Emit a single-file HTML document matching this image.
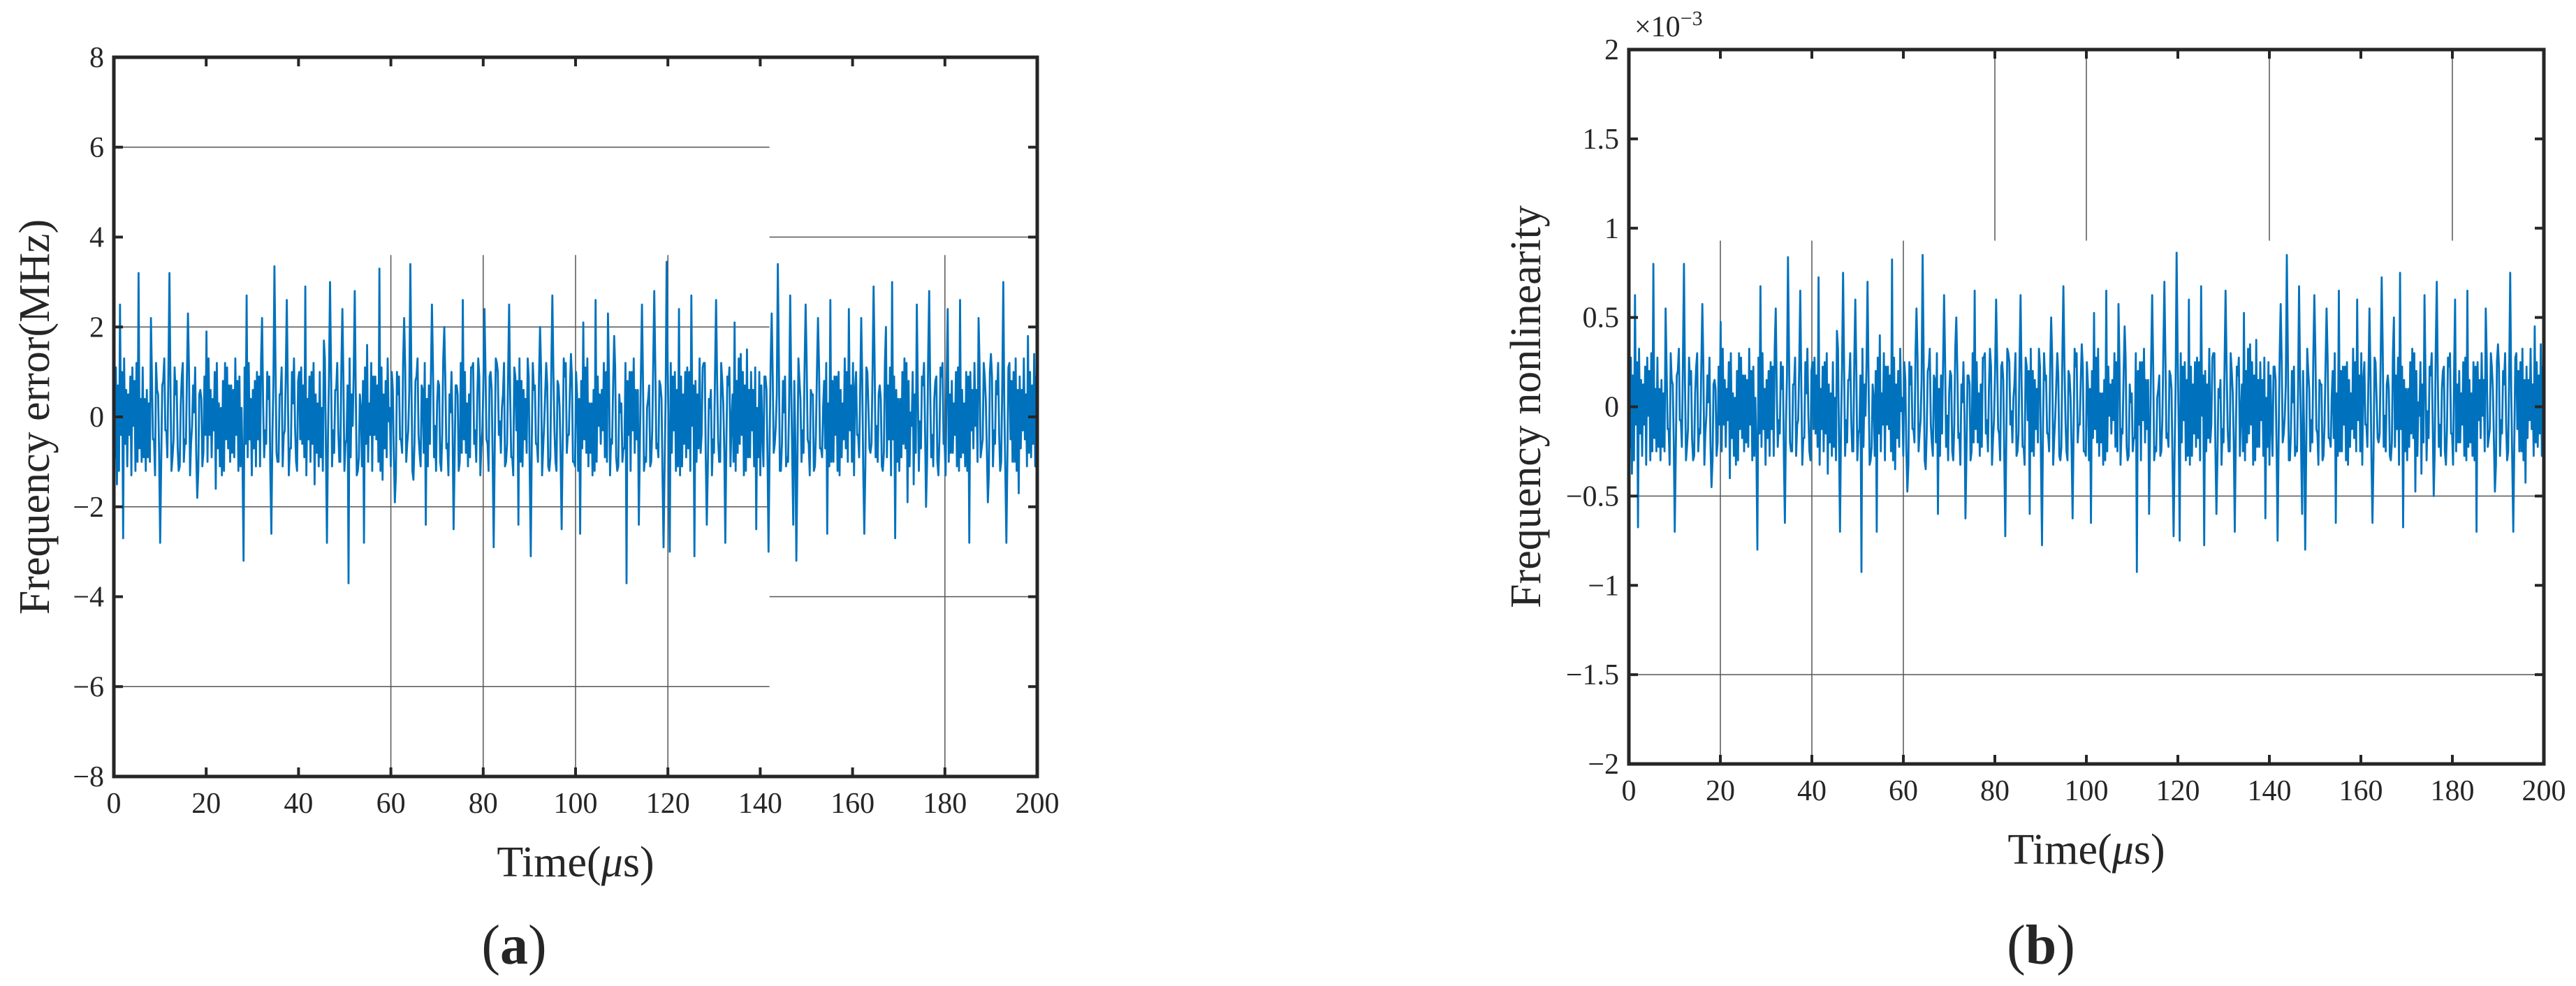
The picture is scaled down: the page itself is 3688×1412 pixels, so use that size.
<!DOCTYPE html>
<html><head><meta charset="utf-8">
<style>
html,body{margin:0;padding:0;background:#fff;}
svg{display:block;}
text{font-family:"Liberation Serif",serif;fill:#262626;}
</style></head>
<body>
<svg id="fig" width="3688" height="1412" viewBox="0 0 3688 1412"></svg>
<script>
// ---- data ----
const xDomain = [0, 200];
const xTicks = [0,20,40,60,80,100,120,140,160,180,200];
const yTicksA = [-8,-6,-4,-2,0,2,4,6,8];
const yTickLabelsA = ["\u22128","\u22126","\u22124","\u22122","0","2","4","6","8"];
const yTicksB = [-2,-1.5,-1,-0.5,0,0.5,1,1.5,2];
const yTickLabelsB = ["\u22122","\u22121.5","\u22121","\u22120.5","0","0.5","1","1.5","2"];
// frequency error (MHz), main samples (~300 over 0..200 us)
const freqError = [
0.8,-1.5,2.5,-2.7,0.6,-0.4,1.1,-1.2,3.2,-1.0,0.4,-0.9,2.2,-0.5,0.6,-2.8,0.8,-0.3,3.2,-0.9,
0.5,-1.2,0.9,-0.5,2.3,-0.6,0.1,-1.8,0.6,-0.8,1.9,-0.4,0.4,-1.6,0.3,-1.3,1.2,-0.7,0.7,-0.9,
0.8,-1.1,-3.2,2.7,-0.5,0.6,-1.1,0.9,2.2,-0.3,0.4,-2.6,3.35,-1.0,0.5,-0.4,2.6,-0.7,0.3,-1.0,
1.0,-0.6,2.9,-0.5,1.0,-1.5,0.3,-0.9,1.7,-2.8,3.0,-0.3,0.6,-1.0,2.4,-0.6,-3.7,0.5,2.8,-1.2,
0.2,-2.8,1.6,-0.4,0.9,-0.5,3.3,-1.4,0.8,-0.1,1.0,-1.9,0.5,-0.5,2.2,-0.6,3.4,-1.4,0.9,-0.8,
0.6,-2.4,0.7,2.5,-0.2,0.8,-1.2,2.0,-0.6,0.1,-2.5,0.7,-1.0,2.6,-0.8,0.5,1.1,-0.3,1.3,-0.7,
2.4,-0.6,1.0,-2.9,1.2,-0.1,0.5,-1.0,2.5,-0.9,0.9,-2.4,0.8,-0.5,1.3,-3.1,0.6,-0.6,2.0,-0.7,
1.2,-1.2,2.7,-1.0,0.7,-2.5,0.9,-0.4,1.4,-1.0,0.5,-2.6,2.1,-0.8,0.3,-1.3,2.6,-0.2,0.6,-0.9,
2.3,-0.5,1.8,-1.2,0.1,-0.7,-3.7,1.0,-0.3,0.6,-2.4,2.5,-0.9,0.4,-1.0,2.8,-0.6,0.7,-2.9,3.45,
-3.0,0.9,-1.2,2.4,-1.1,1.0,-0.7,2.7,-3.1,0.5,-0.8,1.2,-2.4,0.2,-0.5,2.6,-1.0,0.8,-2.8,0.7,
-0.1,2.1,-0.8,1.4,-1.3,1.5,-0.9,0.6,-2.5,1.0,-0.4,0.9,-3.0,2.3,-0.6,3.4,-1.2,0.1,-0.9,2.7,
-2.4,-3.2,0.8,-0.3,2.5,-0.6,0.5,-1.1,2.2,-0.7,0.8,-2.6,2.6,-1.0,0.9,-1.3,0.3,-0.7,2.4,-1.0,
0.6,-0.4,2.2,-2.6,1.0,-0.8,2.9,-0.2,0.7,-1.2,2.0,-0.5,3.0,-2.7,0.4,-0.9,1.3,-1.9,0.1,-1.5,
2.5,-0.1,0.7,-2.0,2.8,-0.4,0.8,-1.3,0.9,-0.6,2.4,-0.8,0.3,-1.1,2.6,-0.8,1.0,-2.8,0.6,-0.2,
2.2,-0.7,0.9,-1.9,1.4,-0.3,0.5,-1.2,3.0,-2.8,1.2,-1.0,1.3,-1.7,0.6,-0.5,1.8,-0.9,1.4,-0.6
];
// in-between samples (two between each pair of main samples), small amplitude band
const freqErrorFine = [
-0.9,1.1,0.7,-1.2,-0.4,1.0,1.3,-0.6,-1.1,0.5,0.9,-1.3,-0.2,0.8,1.2,-1.0,-0.7,0.4,1.1,-0.9,
-1.2,0.6,0.3,-1.0,0.9,-0.5,-1.3,1.2,0.5,-0.8,-1.0,0.7,1.3,-0.3,-0.9,1.0,0.6,-1.2,-0.5,1.1,
0.8,-0.7,-1.1,0.3,1.2,-1.0,-0.6,0.9,1.0,-1.3,-0.2,0.7,1.1,-0.8,-1.2,0.5,0.4,-1.1,0.9,-0.4,
-1.0,1.3,0.6,-0.9,-0.3,1.0,1.2,-0.7,-1.1,0.2,0.8,-1.2,-0.5,1.1,0.7,-1.0,-0.8,0.6,1.3,-0.4,
-1.2,0.9,0.2,-1.0,1.1,-0.6,-0.9,1.2,0.4,-1.3,-0.7,0.8,1.0,-0.5,-1.1,1.3,0.3,-0.9,-0.6,1.0,
0.9,-1.2,-0.4,0.7,1.2,-0.8,-1.0,0.5,1.1,-1.1,-0.3,0.9,0.6,-1.3,-0.7,1.0,1.3,-0.2,-1.2,0.8,
-0.5,1.1,0.7,-0.9,-1.3,0.4,0.9,-1.0,-0.6,1.2,0.5,-0.8,-1.1,1.0,0.2,-1.2,1.3,-0.7,-0.4,0.9,
1.0,-1.1,-0.8,0.6,1.2,-0.3,-1.0,1.1,0.8,-1.2,-0.5,0.7,1.3,-0.9,-0.2,1.0,0.6,-1.3,-0.9,0.5,
-1.1,0.8,1.1,-0.6,-1.0,0.3,1.2,-1.2,-0.4,0.9,0.7,-1.0,-1.2,1.1,0.5,-0.7,-0.9,1.3,0.2,-1.1,
0.6,-0.9,-1.3,1.0,0.9,-0.5,-0.8,1.2,1.1,-1.0,-0.3,0.6,1.0,-1.2,-0.6,0.8,1.3,-0.4,-1.1,0.7,
-0.8,1.2,0.4,-1.1,-0.6,0.9,1.1,-0.9,-1.2,0.3,0.7,-1.0,-0.4,1.3,0.8,-0.7,-1.3,0.5,1.0,-0.2,
-1.0,0.7,0.5,-1.2,1.2,-0.8,-0.5,1.0,0.3,-1.1,-0.9,1.1,1.2,-0.6,-1.0,0.4,0.9,-1.3,-0.3,0.8,
1.1,-0.5,-1.2,0.9,0.6,-1.0,-0.7,1.3,1.0,-0.4,-0.8,0.2,1.2,-1.1,-0.6,1.0,0.5,-0.9,-1.3,1.1,
-0.3,0.8,1.3,-1.0,-1.1,0.6,0.4,-0.8,0.9,-1.2,-0.5,1.2,0.7,-0.6,-1.0,0.9,1.1,-1.3,-0.2,0.5,
0.7,-1.1,-0.9,1.2,1.0,-0.3,-1.2,0.8,0.2,-0.9,-0.6,1.3,1.2,-0.8,-0.4,0.6,0.9,-1.0,-1.1,1.0,
-1.2,0.4,0.8,-0.7,-0.5,1.1,1.3,-1.1,-0.8,0.3,0.6,-1.2,-1.0,0.9,0.5,-0.6,-0.3,1.2,1.0,-1.0,
0.9,-1.3,-0.6,0.7,1.1,-0.9,-1.1,0.5,0.3,-1.0,-0.7,1.2,0.8,-0.4,-1.2,1.0,1.3,-0.8,-0.5,0.6,
-0.6,1.0,0.9,-1.2,-1.0,0.2,0.7,-1.1,-0.3,1.3,1.1,-0.7,-0.9,0.8,0.4,-1.3,-1.1,0.5,1.2,-0.5,
1.2,-0.8,-0.3,1.0,0.6,-1.1,-1.3,0.9,0.5,-0.6,-0.9,1.1,1.0,-1.2,-0.2,0.7,0.8,-1.0,-0.7,1.3,
-0.4,1.1,1.2,-0.9,-1.1,0.4,0.6,-1.3,-0.8,1.0,0.9,-0.5,-1.0,1.2,0.3,-0.8,-0.6,0.9,1.1,-1.1,
0.5,-1.0,-1.2,0.8,1.3,-0.6,-0.4,1.0,0.7,-1.2,-0.9,0.6,1.0,-0.3,-1.1,1.1,0.2,-0.9,-1.3,0.7,
-1.1,0.9,0.6,-1.0,-0.7,1.2,1.0,-0.8,-0.2,0.5,1.3,-1.2,-0.6,0.8,0.9,-1.1,-1.0,0.3,0.7,-0.9,
0.8,-0.6,-1.1,1.3,0.4,-1.0,-0.8,1.1,1.2,-0.5,-1.3,0.6,0.5,-1.2,-0.4,1.0,1.1,-0.7,-0.9,0.2,
-0.7,1.2,0.3,-1.1,-1.0,0.8,0.9,-0.4,-1.2,1.0,0.6,-0.9,-0.5,1.3,1.0,-1.0,-0.3,0.7,1.2,-1.3,
1.0,-0.4,-0.9,0.6,0.8,-1.2,-1.1,1.1,0.2,-0.7,-0.6,1.0,1.3,-0.9,-1.0,0.5,0.4,-1.1,-0.8,1.2,
-0.9,0.7,1.1,-1.3,-0.5,0.9,0.6,-1.0,-1.2,0.4,1.0,-0.6,-0.7,1.2,0.8,-1.1,-0.2,1.0,0.5,-0.8,
0.6,-1.2,-0.7,0.9,1.2,-0.3,-1.0,1.3,0.7,-0.9,-1.1,0.4,0.9,-1.0,-0.5,1.1,1.2,-0.6,-1.3,0.8,
-1.0,0.5,0.8,-0.8,-0.4,1.0,1.1,-1.2,-0.9,0.6,0.3,-1.1,-1.2,0.9,1.0,-0.3,-0.7,1.2,0.6,-1.0,
1.1,-0.9,-0.5,1.2,0.4,-0.7,-1.3,1.0,0.9,-1.1,-0.6,0.8,1.2,-0.4,-1.0,0.7,0.3,-1.2,-0.9,1.1,
-0.5,0.8,1.0,-1.0,-1.2,0.6,0.9,-0.7,-0.3,1.3,0.5,-1.1,-0.8,1.0,0.7,-0.6,-1.1,0.9
];
// frequency nonlinearity (x1e-3) mirrors the error shape
const nonlinScale = 0.25;

// ---- helpers ----
const NS = "http://www.w3.org/2000/svg";
const svg = document.getElementById("fig");
function mk(tag, attrs, parent){
  const e = document.createElementNS(NS, tag);
  for (const k in attrs) e.setAttribute(k, attrs[k]);
  (parent||svg).appendChild(e);
  return e;
}
function scale(d0,d1,r0,r1){ return v => r0 + (v-d0)*(r1-r0)/(d1-d0); }
function merge(main, fine){
  const out = [];
  for (let i=0;i<main.length;i++){
    out.push(main[i]);
    if (i < main.length-1){
      if (fine[2*i] !== undefined) out.push(fine[2*i]);
      if (fine[2*i+1] !== undefined) out.push(fine[2*i+1]);
    }
  }
  return out;
}
const seriesA = merge(freqError, freqErrorFine);
const seriesB = seriesA.map(v => v * nonlinScale);

function panel(cfg){
  const g = mk("g", {});
  
  
  const X = scale(xDomain[0], xDomain[1], cfg.L, cfg.R);
  const Y = scale(cfg.yd[0], cfg.yd[1], cfg.B, cfg.T);
  cfg.hlines.forEach(h => {
    const l = mk("line", {x1:X(h[1]), x2:X(h[2]), y1:Y(h[0]), y2:Y(h[0]), stroke:"#555", "stroke-width":1.5}, g);
    
    
  });
  cfg.vlines.forEach(v => {
    const l = mk("line", {x1:X(v[0]), x2:X(v[0]), y1:Y(v[1]), y2:Y(v[2]), stroke:"#555", "stroke-width":1.5}, g);
    
    
  });
  const n = cfg.data.length;
  let d = "";
  cfg.data.forEach((v,i) => {
    const x = X(xDomain[0] + i*(xDomain[1]-xDomain[0])/(n-1));
    d += (i?"L":"M") + x.toFixed(1) + " " + Y(v).toFixed(1);
  });
  const p = mk("path", {d:d, fill:"none", stroke:"#0072BD", "stroke-width":2.8, "stroke-linejoin":"round"}, g);
  
  
  const box = mk("rect", {x:cfg.L, y:cfg.T, width:cfg.R-cfg.L, height:cfg.B-cfg.T, fill:"none", stroke:"#262626", "stroke-width":5}, g);
  
  
  xTicks.forEach(t => {
    const x = X(t);
    mk("line", {x1:x,x2:x,y1:cfg.B,y2:cfg.B-13,stroke:"#262626","stroke-width":4}, g);
    mk("line", {x1:x,x2:x,y1:cfg.T,y2:cfg.T+13,stroke:"#262626","stroke-width":4}, g);
    const tx = mk("text", {x:x, y:cfg.B+52, "font-size":42, "text-anchor":"middle"}, g);
    tx.textContent = t;
    
    
  });
  cfg.yt.forEach((t,i) => {
    const y = Y(t);
    mk("line", {x1:cfg.L,x2:cfg.L+13,y1:y,y2:y,stroke:"#262626","stroke-width":4}, g);
    mk("line", {x1:cfg.R,x2:cfg.R-13,y1:y,y2:y,stroke:"#262626","stroke-width":4}, g);
    const ty = mk("text", {x:cfg.L-14, y:y+14, "font-size":42, "text-anchor":"end"}, g);
    ty.textContent = cfg.ytl[i];
    
    
  });
  const xt = mk("text", {x:(cfg.L+cfg.R)/2, y:cfg.B+143, "font-size":62, "text-anchor":"middle"}, g);
  xt.innerHTML = 'Time(<tspan font-style="italic">μ</tspan>s)';
  
  
  const yt = mk("text", {x:0, y:0, "font-size":62, "text-anchor":"middle", transform:"translate("+cfg.ylx+","+((cfg.T+cfg.B)/2)+") rotate(-90)"}, g);
  yt.textContent = cfg.ylabel;
  
  
  const cap = mk("text", {x:cfg.capx, y:1380, "font-size":80, "text-anchor":"middle"}, g);
  cap.innerHTML = '(<tspan font-weight="bold">' + cfg.cap + '</tspan>)';
  
  
  return {g, X, Y};
}

panel({name:"panel-a", L:163, R:1485, T:82, B:1112, yd:[-8,8], yt:yTicksA, ytl:yTickLabelsA,
  data:seriesA, ylabel:"Frequency error(MHz)", ylx:70, capx:736, cap:"a",
  hlines:[[6,0,142],[2,0,142],[-2,0,142],[-6,0,142],[4,142,200],[-4,142,200]],
  vlines:[[60,3.6,-8],[80,3.6,-8],[100,3.6,-8],[120,3.6,-8],[180,3.6,-8]]});

const pb = panel({name:"panel-b", L:2332, R:3642, T:71, B:1094, yd:[-2,2], yt:yTicksB, ytl:yTickLabelsB,
  data:seriesB, ylabel:"Frequency nonlinearity", ylx:2205, capx:2922, cap:"b",
  hlines:[[-0.5,0,200],[-1.5,0,200]],
  vlines:[[80,2,0.93],[100,2,0.93],[140,2,0.93],[180,2,0.93],[20,0.93,-2],[40,0.93,-2],[60,0.93,-2]]});
const mult = mk("text", {x:2340, y:52, "font-size":42}, pb.g);
mult.innerHTML = '×10<tspan dy="-16" font-size="30">−3</tspan>';


</script>
</body></html>
